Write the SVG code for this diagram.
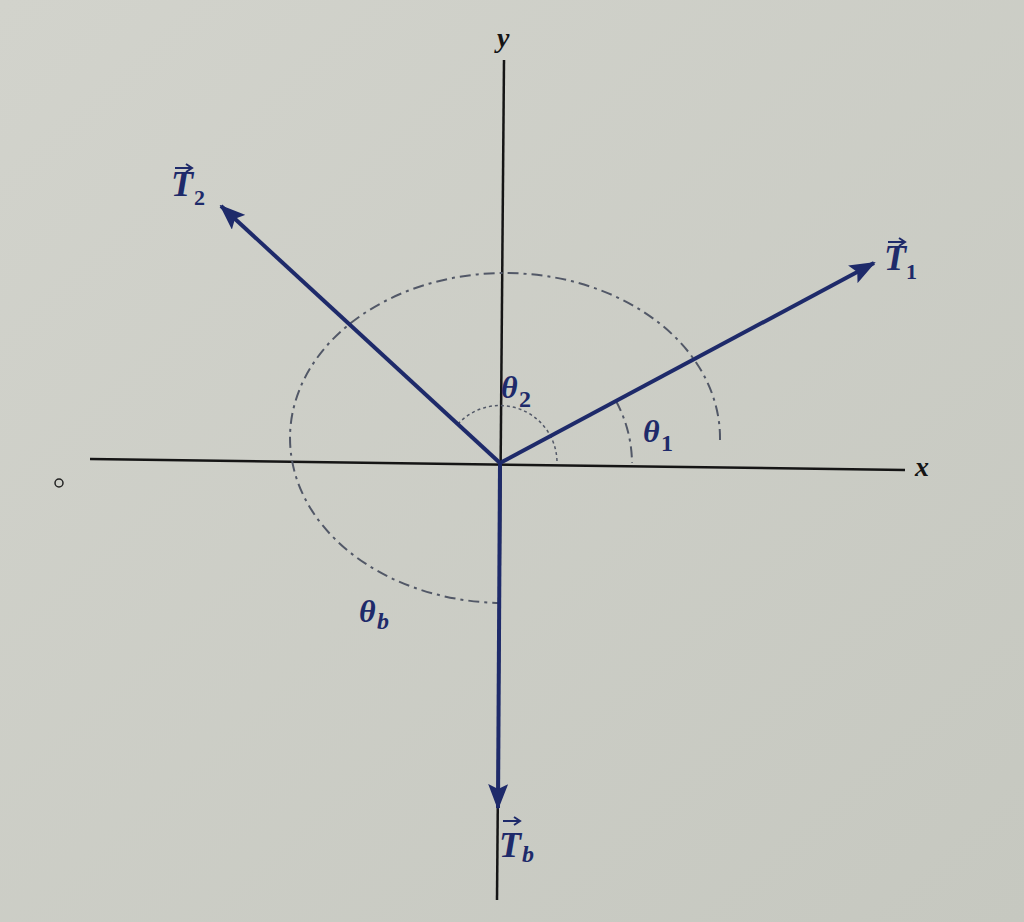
<svg xmlns="http://www.w3.org/2000/svg" width="1024" height="922" viewBox="0 0 1024 922">
<defs>
<linearGradient id="bg" x1="0" y1="0" x2="1" y2="1">
<stop offset="0" stop-color="#d2d3cc"/>
<stop offset="1" stop-color="#c6c8c0"/>
</linearGradient>
<marker id="ah" viewBox="0 0 26 20" refX="24" refY="10" markerWidth="26" markerHeight="20" markerUnits="userSpaceOnUse" orient="auto">
<path d="M0,0 L26,10 L0,20 L5,10 z" fill="#1e2a6a"/>
</marker>
<style>
.axis{stroke:#151515;stroke-width:2.5;fill:none}
.vec{stroke:#1e2a6a;stroke-width:4;fill:none}
.dd{stroke:#525867;stroke-width:2;fill:none;stroke-dasharray:11 5 3 5}
.dot{stroke:#525867;stroke-width:1.5;fill:none;stroke-dasharray:3 3}
.lab{font-family:"Liberation Serif",serif;font-style:italic;font-weight:bold;fill:#1e2a6a}
.sub{font-family:"Liberation Serif",serif;font-weight:bold;fill:#1e2a6a}
.ax{font-family:"Liberation Serif",serif;font-style:italic;font-weight:bold;fill:#151515}
</style>
</defs>
<rect width="1024" height="922" fill="url(#bg)"/>
<circle cx="59" cy="483" r="4" fill="none" stroke="#222" stroke-width="1.5"/>
<g id="axes">
<line class="axis" x1="90" y1="459" x2="905" y2="470"/>
<line class="axis" x1="504" y1="60" x2="497" y2="900"/>
<text class="ax" x="497" y="47" font-size="28">y</text>
<text class="ax" x="915" y="476" font-size="28">x</text>
</g>
<g id="angles">
<path class="dd" d="M720,440 A215,165 0 1 0 500,603"/>
<path class="dot" d="M458,424 A57,57 0 0 1 557,463"/>
<path class="dd" d="M616,401 A132,132 0 0 1 632,463"/>
</g>
<g id="connectors">
<line class="vec" x1="500" y1="463" x2="874" y2="263" marker-end="url(#ah)"/>
<line class="vec" x1="500" y1="463" x2="221" y2="206" marker-end="url(#ah)"/>
<line class="vec" x1="500" y1="463" x2="498" y2="808" marker-end="url(#ah)"/>
</g>
<g id="T1">
<text class="lab" x="884" y="270" font-size="36">T</text>
<text class="sub" x="906" y="279" font-size="22">1</text>
<path d="M888,242 L904,242 M899,238 L905,242 L899,246" stroke="#1e2a6a" stroke-width="2" fill="none"/>
</g>
<g id="T2">
<text class="lab" x="171" y="196" font-size="36">T</text>
<text class="sub" x="194" y="205" font-size="22">2</text>
<path d="M175,168 L191,168 M186,164 L192,168 L186,172" stroke="#1e2a6a" stroke-width="2" fill="none"/>
</g>
<g id="Tb">
<text class="lab" x="499" y="857" font-size="36">T</text>
<text class="lab" x="522" y="862" font-size="24">b</text>
<path d="M503,821 L519,821 M514,817 L520,821 L514,825" stroke="#1e2a6a" stroke-width="2" fill="none"/>
</g>
<g id="theta2">
<text class="lab" x="501" y="398" font-size="32">θ</text>
<text class="sub" x="519" y="407" font-size="24">2</text>
</g>
<g id="theta1">
<text class="lab" x="643" y="442" font-size="32">θ</text>
<text class="sub" x="661" y="451" font-size="24">1</text>
</g>
<g id="thetab">
<text class="lab" x="359" y="622" font-size="32">θ</text>
<text class="lab" x="377" y="629" font-size="24">b</text>
</g>
</svg>
